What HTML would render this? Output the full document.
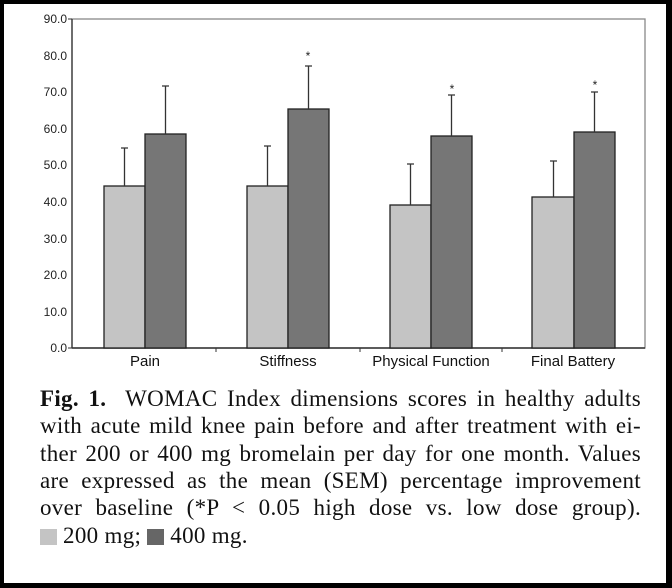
<!DOCTYPE html>
<html><head><meta charset="utf-8"><style>
html,body{margin:0;padding:0;background:#fff;}
#f{position:relative;width:672px;height:588px;overflow:hidden;background:#fff;}
#b{position:absolute;left:0;top:0;width:662px;height:579px;border-style:solid;border-color:#000;border-width:4px 6px 5px 4px;}
.cap{position:absolute;left:40px;width:601px;font-family:"Liberation Serif",serif;font-size:23px;letter-spacing:0.3px;line-height:27px;text-align:justify;text-align-last:justify;white-space:nowrap;color:#111;}
.cap.l{text-align-last:left;}
</style></head><body><div id="f">
<div id="b"></div>
<svg width="672" height="588" style="position:absolute;left:0;top:0" font-family="Liberation Sans, sans-serif">
<rect x="72" y="19" width="573" height="329" fill="none" stroke="#888" stroke-width="1.3"/>
<line x1="72" y1="19" x2="72" y2="348" stroke="#333" stroke-width="1.3"/>
<line x1="72" y1="348" x2="645" y2="348" stroke="#333" stroke-width="1.5"/>
<g font-size="12" fill="#222" text-anchor="end">
<text x="67" y="23">90.0</text><text x="67" y="60">80.0</text><text x="67" y="96">70.0</text>
<text x="67" y="133">60.0</text><text x="67" y="169">50.0</text><text x="67" y="206">40.0</text>
<text x="67" y="243">30.0</text><text x="67" y="279">20.0</text><text x="67" y="316">10.0</text><text x="67" y="352">0.0</text>
</g>
<g stroke="#333" stroke-width="1"><line x1="68" y1="19" x2="72" y2="19"/><line x1="68" y1="348" x2="72" y2="348"/>
<line x1="216" y1="348" x2="216" y2="352"/><line x1="360" y1="348" x2="360" y2="352"/><line x1="502" y1="348" x2="502" y2="352"/></g>
<g stroke="#222" stroke-width="1.3">
<rect x="104" y="186" width="41" height="162" fill="#c4c4c4"/><rect x="145" y="134" width="41" height="214" fill="#767676"/>
<rect x="247" y="186" width="41" height="162" fill="#c4c4c4"/><rect x="288" y="109" width="41" height="239" fill="#767676"/>
<rect x="390" y="205" width="41" height="143" fill="#c4c4c4"/><rect x="431" y="136" width="41" height="212" fill="#767676"/>
<rect x="532" y="197" width="42" height="151" fill="#c4c4c4"/><rect x="574" y="132" width="41" height="216" fill="#767676"/>
</g>
<g stroke="#333" stroke-width="1.3">
<path d="M124.5 186V148M121 148h7"/><path d="M165.5 134V86M162 86h7"/>
<path d="M267.5 186V146M264 146h7"/><path d="M308.5 109V66M305 66h7"/>
<path d="M410.5 205V164M407 164h7"/><path d="M451.5 136V95M448 95h7"/>
<path d="M553.5 197V161M550 161h7"/><path d="M594.5 132V92M591 92h7"/>
</g>
<g font-size="12" fill="#222" text-anchor="middle"><text x="308" y="60">*</text><text x="452" y="93">*</text><text x="595" y="89">*</text></g>
<g font-size="15" fill="#111" text-anchor="middle">
<text x="145" y="366">Pain</text><text x="288" y="366">Stiffness</text><text x="431" y="366">Physical Function</text><text x="573" y="366">Final Battery</text>
</g>
</svg>
<div class="cap" style="top:385px"><b>Fig. 1.</b>&nbsp; WOMAC Index dimensions scores in healthy adults</div>
<div class="cap" style="top:412px">with acute mild knee pain before and after treatment with ei-</div>
<div class="cap" style="top:440px">ther 200 or 400 mg bromelain per day for one month. Values</div>
<div class="cap" style="top:467px">are expressed as the mean (SEM) percentage improvement</div>
<div class="cap" style="top:494px">over baseline (*P &lt; 0.05 high dose vs. low dose group).</div>
<div class="cap l" style="top:522px"><span style="display:inline-block;width:17px;height:16px;background:#c4c4c4;vertical-align:-2px"></span> 200 mg; <span style="display:inline-block;width:17px;height:16px;background:#666;vertical-align:-2px"></span> 400 mg.</div>
</div></body></html>
